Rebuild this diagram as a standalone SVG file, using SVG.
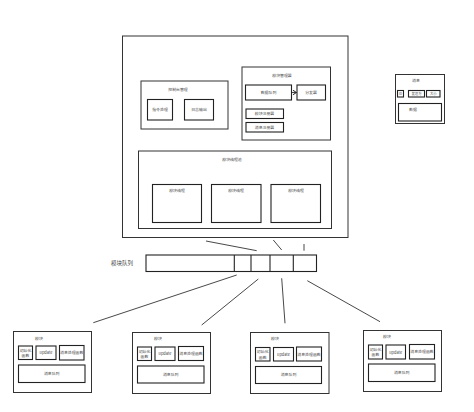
<svg xmlns="http://www.w3.org/2000/svg" width="474" height="412" viewBox="0 0 474 412">
<defs>
<style>
.b{fill:#fff;stroke:#333;stroke-width:1}
.i{fill:#fff;stroke:#222;stroke-width:1.1}
.t{font-family:"Noto Sans CJK SC","Liberation Sans",sans-serif;font-size:3.9px;fill:#444;text-anchor:middle}
.l{font-family:"Noto Sans CJK SC","Liberation Sans",sans-serif;font-size:5.5px;fill:#444;text-anchor:middle}
.c{stroke:#333;stroke-width:0.9;fill:none}
</style>
<marker id="ah" markerWidth="5" markerHeight="5" refX="4" refY="2.5" orient="auto" markerUnits="userSpaceOnUse">
<path d="M0,0 L4,2.5 L0,5" fill="none" stroke="#222" stroke-width="1"/>
</marker>
</defs>
<rect width="474" height="412" fill="#fff"/>

<g id="main">
<rect class="b" x="122.5" y="36" width="225.5" height="201.5"/>
</g>

<g id="console">
<rect class="b" x="141" y="81" width="87" height="48"/>
<text class="t" x="178" y="90.5">控制台管理</text>
<g id="cmd"><rect class="i" x="147.5" y="99.5" width="25" height="20.5"/><text class="t" x="160" y="111.3">指令处理</text></g>
<g id="log"><rect class="i" x="184.5" y="99.5" width="29" height="20.5"/><text class="t" x="199" y="111.3">日志输出</text></g>
</g>

<g id="manager">
<rect class="b" x="242" y="67" width="88.5" height="73"/>
<text class="t" x="282" y="76.5">模块管理器</text>
<g id="dataq"><rect class="i" x="245.5" y="85" width="46" height="15"/><text class="t" x="268.5" y="93.8">数据队列</text></g>
<g id="dispatch"><rect class="i" x="297" y="85" width="28.5" height="15"/><text class="t" x="311" y="93.8">分发器</text></g>
<g id="modreg"><rect class="i" x="246" y="109" width="37.5" height="9.5"/><text class="t" x="264.5" y="115.2">模块注册器</text></g>
<g id="msgreg"><rect class="i" x="246" y="122.5" width="37.5" height="9.5"/><text class="t" x="264.5" y="128.7">消息注册器</text></g>
</g>

<g id="pool">
<rect class="b" x="138.5" y="151" width="193" height="77.5"/>
<text class="t" x="232" y="161">模块线程池</text>
<g id="th1"><rect class="i" x="152.5" y="184.5" width="49" height="38"/><text class="t" x="177" y="191.5">模块线程</text></g>
<g id="th2"><rect class="i" x="211.5" y="184.5" width="49.5" height="38"/><text class="t" x="236" y="191.5">模块线程</text></g>
<g id="th3"><rect class="i" x="271" y="184.5" width="49.5" height="38"/><text class="t" x="296" y="191.5">模块线程</text></g>
</g>

<g id="msg">
<rect class="b" x="395.5" y="74.5" width="49" height="49"/>
<text class="t" x="416" y="82">消息</text>
<g id="mid"><rect class="i" x="397.5" y="90.5" width="6" height="6.5"/><text class="t" x="400.5" y="95.2" style="font-size:3.4px">ID</text></g>
<g id="msender"><rect class="i" x="408.5" y="90.5" width="16" height="6.5"/><text class="t" x="416.5" y="95.2" style="font-size:3.4px">发送方</text></g>
<g id="msize"><rect class="i" x="426.5" y="90.5" width="13.5" height="6.5"/><text class="t" x="433.3" y="95.2" style="font-size:3.4px">大小</text></g>
<g id="mdata"><rect class="i" x="398.5" y="103.5" width="43" height="17.5"/><text class="t" x="413" y="111">数据</text></g>
</g>

<g id="queue">
<text class="l" x="122" y="264.5">模块队列</text>
<rect class="i" x="146" y="255" width="170.5" height="16.5"/>
<line class="c" x1="234.3" y1="255" x2="234.3" y2="271.5" style="stroke:#222;stroke-width:1.1"/>
<line class="c" x1="251" y1="255" x2="251" y2="271.5" style="stroke:#222;stroke-width:1.1"/>
<line class="c" x1="270" y1="255" x2="270" y2="271.5" style="stroke:#222;stroke-width:1.1"/>
<line class="c" x1="293.3" y1="255" x2="293.3" y2="271.5" style="stroke:#222;stroke-width:1.1"/>
</g>

<g id="m1">
<rect class="b" x="13.5" y="331.5" width="78" height="61"/>
<text class="t" x="39" y="339.5">模块</text>
<rect class="i" x="18.5" y="346" width="14" height="13.5"/><text class="t" x="25.5" y="351.5">初始化</text><text class="t" x="25.5" y="357">函数</text>
<rect class="i" x="36" y="346" width="20" height="13.5"/><text class="t" x="46" y="354">update</text>
<rect class="i" x="59.5" y="345.5" width="24.5" height="14.5"/><text class="t" x="71.7" y="354">消息处理函数</text>
<rect class="i" x="18.5" y="365" width="66.5" height="17.5"/><text class="t" x="51.7" y="375">消息队列</text>
</g>

<g id="m2">
<rect class="b" x="132.5" y="332.5" width="78" height="61"/>
<text class="t" x="158" y="340">模块</text>
<rect class="i" x="137.5" y="347" width="14" height="13.5"/><text class="t" x="144.5" y="352.5">初始化</text><text class="t" x="144.5" y="358">函数</text>
<rect class="i" x="155" y="347" width="20" height="13.5"/><text class="t" x="165" y="355">update</text>
<rect class="i" x="178.5" y="346.5" width="25" height="14"/><text class="t" x="191" y="355">消息处理函数</text>
<rect class="i" x="137.5" y="366" width="66.5" height="17"/><text class="t" x="170.7" y="375.5">消息队列</text>
</g>

<g id="m3">
<rect class="b" x="250.5" y="332.5" width="78.5" height="61"/>
<text class="t" x="275" y="340">模块</text>
<rect class="i" x="255.5" y="347.5" width="14.5" height="13.5"/><text class="t" x="262.7" y="353">初始化</text><text class="t" x="262.7" y="358.5">函数</text>
<rect class="i" x="273.5" y="347.5" width="20" height="13.5"/><text class="t" x="283.5" y="355.5">update</text>
<rect class="i" x="296.5" y="347" width="25" height="14"/><text class="t" x="309" y="355.5">消息处理函数</text>
<rect class="i" x="255.5" y="366.5" width="66" height="17"/><text class="t" x="288.5" y="376">消息队列</text>
</g>

<g id="m4">
<rect class="b" x="363.5" y="330.5" width="78" height="61"/>
<text class="t" x="387" y="338">模块</text>
<rect class="i" x="368.5" y="345" width="14" height="14"/><text class="t" x="375.5" y="350.7">初始化</text><text class="t" x="375.5" y="356.2">函数</text>
<rect class="i" x="386" y="345" width="19.5" height="14"/><text class="t" x="395.7" y="353.5">update</text>
<rect class="i" x="409.5" y="344.5" width="25" height="14.5"/><text class="t" x="422" y="353.3">消息处理函数</text>
<rect class="i" x="368.5" y="364" width="66.5" height="17.5"/><text class="t" x="401.7" y="374">消息队列</text>
</g>

<g id="connectors">
<line class="c" x1="291.7" y1="92.5" x2="296.5" y2="92.5" marker-end="url(#ah)"/>
<line class="c" x1="206" y1="241" x2="256.7" y2="250.7"/>
<line class="c" x1="273.3" y1="240" x2="281.7" y2="250"/>
<line class="c" x1="304" y1="244" x2="304" y2="250.7"/>
<line class="c" x1="236.7" y1="275" x2="93.3" y2="322.7"/>
<line class="c" x1="258.3" y1="279" x2="201.7" y2="325"/>
<line class="c" x1="281.7" y1="278.3" x2="285" y2="323.3"/>
<line class="c" x1="307.3" y1="280.7" x2="380" y2="321.7"/>
</g>
</svg>
